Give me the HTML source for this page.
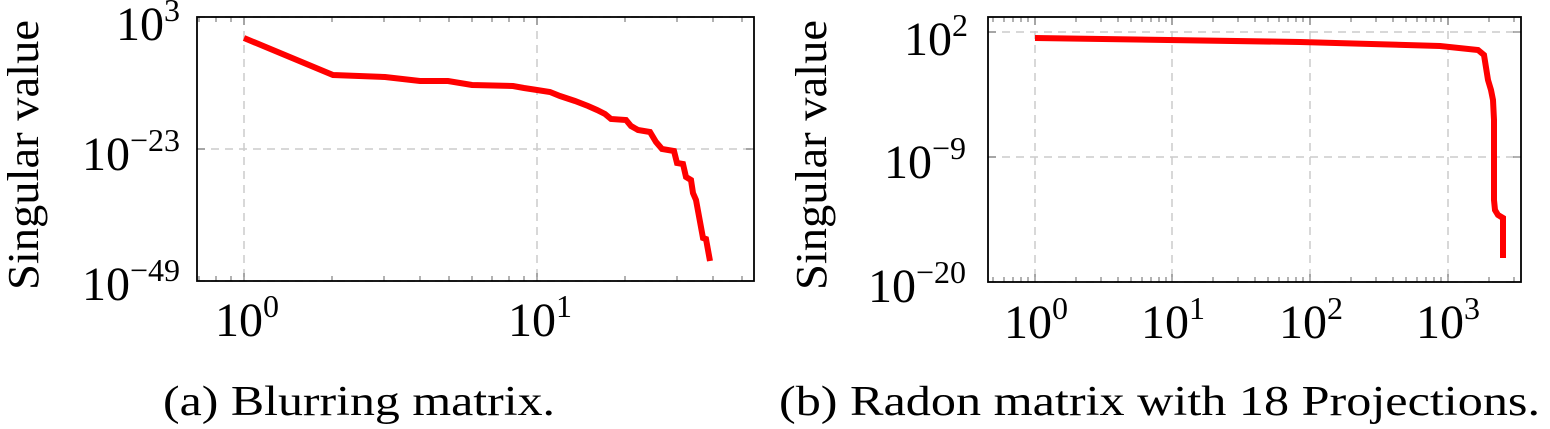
<!DOCTYPE html>
<html><head><style>
body{margin:0;background:#fff;}
text{font-family:"Liberation Serif",serif;fill:#000;}
</style></head><body>
<svg width="1550" height="424" viewBox="0 0 1550 424" xmlns="http://www.w3.org/2000/svg">
<!-- Left plot -->
<g stroke="#ccc" stroke-width="1.5" stroke-dasharray="8,6" fill="none">
<line x1="244" y1="17" x2="244" y2="281"/><line x1="537" y1="17" x2="537" y2="281"/>
<line x1="197" y1="149" x2="754" y2="149"/>
<line x1="197" y1="17" x2="754" y2="17"/><line x1="197" y1="281" x2="754" y2="281"/>
</g>
<g stroke="#666" stroke-width="1">
<path d="M199 281v-5M216 281v-5M231 281v-5M244 281v-8M332 281v-5M384 281v-5M420 281v-5M449 281v-5M472 281v-5M492 281v-5M509 281v-5M524 281v-5M537 281v-8M625 281v-5M677 281v-5M713 281v-5M742 281v-5"/>
<path d="M199 17v5M216 17v5M231 17v5M244 17v8M332 17v5M384 17v5M420 17v5M449 17v5M472 17v5M492 17v5M509 17v5M524 17v5M537 17v8M625 17v5M677 17v5M713 17v5M742 17v5"/>
<path d="M197 149h8M754 149h-8"/>
</g>
<rect x="197" y="17" width="557" height="264" fill="none" stroke="#000" stroke-width="1.8"/>
<polyline fill="none" stroke="#f00" stroke-width="6" points="244,38 333,75 385,77 420,81 448,81 472,85 513,86 524,88 537,90 550,92 560,96 575,101 588,106 597,110 605,114 611,119 626,120 631,126 638,130 650,132 656,142 662,149 674,151 677,163 683,164 686,177 691,180 693,193 696,200 703,238 706,239 710,261"/>
<text x="180" y="40" text-anchor="end" font-size="48">10<tspan font-size="32" dy="-19">3</tspan></text>
<text x="180" y="170" text-anchor="end" font-size="48">10<tspan font-size="32" dy="-19">−23</tspan></text>
<text x="180" y="300" text-anchor="end" font-size="48">10<tspan font-size="32" dy="-19">−49</tspan></text>
<text x="215" y="336" font-size="48">10<tspan font-size="32" dy="-19">0</tspan></text>
<text x="508" y="336" font-size="48">10<tspan font-size="32" dy="-19">1</tspan></text>
<text transform="translate(38,155) rotate(-90)" text-anchor="middle" font-size="44" textLength="270" lengthAdjust="spacingAndGlyphs">Singular value</text>
<text x="163" y="415" font-size="42" textLength="392" lengthAdjust="spacingAndGlyphs">(a) Blurring matrix.</text>

<!-- Right plot -->
<g stroke="#ccc" stroke-width="1.5" stroke-dasharray="8,6" fill="none">
<line x1="1035" y1="17" x2="1035" y2="282"/><line x1="1172" y1="17" x2="1172" y2="282"/>
<line x1="1310" y1="17" x2="1310" y2="282"/><line x1="1448" y1="17" x2="1448" y2="282"/>
<line x1="988" y1="32" x2="1521" y2="32"/><line x1="988" y1="157" x2="1521" y2="157"/>
<line x1="988" y1="282" x2="1521" y2="282"/>
</g>
<g stroke="#666" stroke-width="1">
<path d="M993 282v-5M1004 282v-5M1013 282v-5M1021 282v-5M1028 282v-5M1035 282v-8M1076 282v-5M1101 282v-5M1118 282v-5M1131 282v-5M1142 282v-5M1151 282v-5M1159 282v-5M1166 282v-5M1172 282v-8M1213 282v-5M1238 282v-5M1255 282v-5M1268 282v-5M1279 282v-5M1288 282v-5M1296 282v-5M1303 282v-5M1310 282v-8M1351 282v-5M1376 282v-5M1393 282v-5M1406 282v-5M1417 282v-5M1426 282v-5M1434 282v-5M1441 282v-5M1448 282v-8M1489 282v-5M1514 282v-5"/>
<path d="M993 17v5M1004 17v5M1013 17v5M1021 17v5M1028 17v5M1035 17v8M1076 17v5M1101 17v5M1118 17v5M1131 17v5M1142 17v5M1151 17v5M1159 17v5M1166 17v5M1172 17v8M1213 17v5M1238 17v5M1255 17v5M1268 17v5M1279 17v5M1288 17v5M1296 17v5M1303 17v5M1310 17v8M1351 17v5M1376 17v5M1393 17v5M1406 17v5M1417 17v5M1426 17v5M1434 17v5M1441 17v5M1448 17v8M1489 17v5M1514 17v5"/>
<path d="M988 32h8M988 157h8M1521 32h-8M1521 157h-8"/>
</g>
<rect x="988" y="17" width="533" height="265" fill="none" stroke="#000" stroke-width="1.8"/>
<polyline fill="none" stroke="#f00" stroke-width="6" points="1035,38 1300,42 1440,46 1478,50 1484,55 1488,80 1491,90 1493,100 1494,120 1494,200 1495,210 1498,215 1503,218 1503,258"/>
<text x="968" y="55" text-anchor="end" font-size="48">10<tspan font-size="32" dy="-19">2</tspan></text>
<text x="966" y="178" text-anchor="end" font-size="48">10<tspan font-size="32" dy="-19">−9</tspan></text>
<text x="966" y="302" text-anchor="end" font-size="48">10<tspan font-size="32" dy="-19">−20</tspan></text>
<text x="1004" y="338" font-size="48">10<tspan font-size="32" dy="-19">0</tspan></text>
<text x="1141" y="338" font-size="48">10<tspan font-size="32" dy="-19">1</tspan></text>
<text x="1279" y="338" font-size="48">10<tspan font-size="32" dy="-19">2</tspan></text>
<text x="1416" y="338" font-size="48">10<tspan font-size="32" dy="-19">3</tspan></text>
<text transform="translate(826,155) rotate(-90)" text-anchor="middle" font-size="44" textLength="270" lengthAdjust="spacingAndGlyphs">Singular value</text>
<text x="779" y="415" font-size="42" textLength="761" lengthAdjust="spacingAndGlyphs">(b) Radon matrix with 18 Projections.</text>
</svg>
</body></html>
